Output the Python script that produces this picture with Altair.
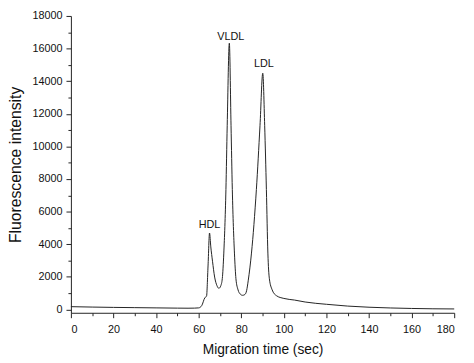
import altair as alt
import pandas as pd

# Migration time (sec)
time = [0, 10, 20, 30, 40, 50, 55, 58, 60, 61.4, 62.9, 63.7, 64.4, 65.1, 65.7, 66.5,
        67.5, 68.6, 69.5, 70.4, 71.1, 71.8, 72.8, 73.4, 74.4, 75.2, 75.8, 76.8, 77.5,
        78.5, 79.5, 80.6, 81.7, 82.5, 83.3, 84.8, 87.1, 88.8, 90.1, 91.0, 91.8, 92.5,
        93.2, 94.5, 96.5, 100, 105, 110, 120, 130, 140, 150, 160, 170, 180]
# Fluorescence intensity
intensity = [175, 150, 130, 115, 100, 85, 80, 85, 100, 230, 720, 820, 2670, 4690, 3840, 2960,
             1990, 1460, 1300, 1460, 1900, 3460, 7360, 11270, 16330, 11270, 7360, 3460, 1890,
             1200, 950, 870, 920, 1150, 1800, 3460, 7360, 11270, 14490, 11270, 7360, 3460,
             1890, 1210, 850, 680, 580, 460, 320, 210, 140, 95, 65, 45, 35]

peak_names = ["HDL", "VLDL", "LDL"]
peak_time = [65.1, 75.1, 90.6]
peak_label_y = [5000, 16550, 14900]

x_major = [0, 20, 40, 60, 80, 100, 120, 140, 160, 180]
x_minor = [10, 30, 50, 70, 90, 110, 130, 150, 170]
y_major = [0, 2000, 4000, 6000, 8000, 10000, 12000, 14000, 16000, 18000]
y_minor = [1000, 3000, 5000, 7000, 9000, 11000, 13000, 15000, 17000]

df = pd.DataFrame({"t": time, "I": intensity})
lab = pd.DataFrame({"name": peak_names, "t": peak_time, "I": peak_label_y})

FONT = "Liberation Sans"
xs = alt.Scale(domain=[0, 180], nice=False, zero=False)
ys = alt.Scale(domain=[-200, 18000], nice=False, zero=False)

common = dict(domainColor="#222", tickColor="#222", labelColor="#111",
              labelFont=FONT, labelFontSize=11, grid=False, domainWidth=1, tickWidth=1,
              format="d")

x_axis = alt.Axis(values=x_major, tickSize=5, labelPadding=6, title="Migration time (sec)",
                  titleFont=FONT, titleFontSize=14, titleFontWeight="normal",
                  titleColor="#111", titlePadding=8, orient="bottom", **common)
y_axis = alt.Axis(values=y_major, tickSize=5, labelPadding=4, title="Fluorescence intensity",
                  titleFont=FONT, titleFontSize=16, titleFontWeight="normal",
                  titleColor="#111", titlePadding=9, orient="left", **common)
x_axis_minor = alt.Axis(values=x_minor, tickSize=3, labels=False, domain=False, title=None,
                        orient="bottom", tickColor="#222", tickWidth=1, grid=False)
y_axis_minor = alt.Axis(values=y_minor, tickSize=3, labels=False, domain=False, title=None,
                        orient="left", tickColor="#222", tickWidth=1, grid=False)

line = alt.Chart(df).mark_line(color="#222", strokeWidth=1, interpolate="monotone").encode(
    x=alt.X("t:Q", scale=xs, axis=x_axis),
    y=alt.Y("I:Q", scale=ys, axis=y_axis),
)
minor = alt.Chart(df).mark_line(opacity=0).encode(
    x=alt.X("t:Q", scale=xs, axis=x_axis_minor),
    y=alt.Y("I:Q", scale=ys, axis=y_axis_minor),
)
labels = alt.Chart(lab).mark_text(font=FONT, fontSize=11, color="#111",
                                  baseline="alphabetic", align="center").encode(
    x=alt.X("t:Q", scale=xs, axis=None),
    y=alt.Y("I:Q", scale=ys, axis=None),
    text="name:N",
)

chart = alt.layer(line, minor, labels).resolve_axis(
    x="independent", y="independent"
).properties(
    width=390, height=302,
    autosize=alt.AutoSizeParams(type="none"),
    padding={"left": 64, "top": 5, "right": 12, "bottom": 48},
).configure_view(stroke=None)

chart.save("out.html", embed_options={"renderer": "svg", "actions": False})
